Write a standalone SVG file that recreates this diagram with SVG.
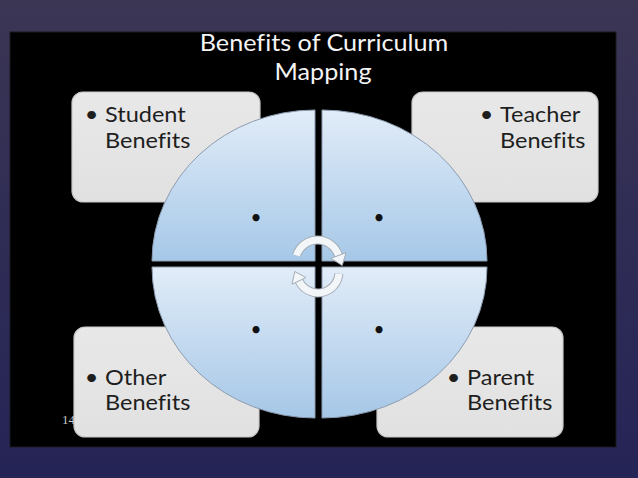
<svg xmlns="http://www.w3.org/2000/svg" width="638" height="478" viewBox="0 0 638 478">
  <defs>
    <linearGradient id="bg" x1="0" y1="0" x2="0" y2="1">
      <stop offset="0" stop-color="#3b3654"/>
      <stop offset="0.5" stop-color="#2f2c55"/>
      <stop offset="1" stop-color="#252456"/>
    </linearGradient>
    <linearGradient id="quadTop" x1="0" y1="0" x2="0" y2="1">
      <stop offset="0" stop-color="#e1ecf8"/>
      <stop offset="1" stop-color="#a6c8e8"/>
    </linearGradient>
    <linearGradient id="quadBot" x1="0" y1="0" x2="0" y2="1">
      <stop offset="0" stop-color="#e1ecf8"/>
      <stop offset="1" stop-color="#a6c7e7"/>
    </linearGradient>
    <linearGradient id="box" x1="0" y1="0" x2="0" y2="1">
      <stop offset="0" stop-color="#e8e8e8"/>
      <stop offset="1" stop-color="#e1e1e1"/>
    </linearGradient>
  </defs>
  <style>
    text { font-variant-ligatures: none; font-feature-settings: "liga" 0; }
    .box { fill: url(#box); stroke: #c8c8c8; stroke-width: 1.2; }
    .btxt { font-family: Lato, "Open Sans", sans-serif; font-size: 21px; fill: #1e1e1e; }
    .title { font-family: Lato, "Open Sans", sans-serif; font-size: 22.5px; fill: #f4f4f4; text-anchor: middle; }
    .quad { stroke: #8c9cb0; stroke-width: 1; }
    .dot { font-family: Lato, "Open Sans", sans-serif; font-size: 19px; fill: #111; text-anchor: middle; }
    .arcOut { fill: none; stroke: #a4adb6; stroke-width: 9; }
    .arcIn { fill: none; stroke: #f3f6f9; stroke-width: 7; }
    .head { fill: #f3f6f9; stroke: #a4adb6; stroke-width: 1; stroke-linejoin: round; }
  </style>

  <rect x="0" y="0" width="638" height="478" fill="url(#bg)"/>
  <rect x="10" y="32" width="606" height="415" fill="#000000" stroke="#1a1a22" stroke-width="1"/>

  <text x="62" y="424" font-family="Liberation Serif, serif" font-size="13" fill="#c8c8c8">14</text>

  <g id="title">
    <text class="title" transform="translate(324,51) scale(1.12,1)">Benefits of Curriculum</text>
    <text class="title" transform="translate(323,80) scale(1.12,1)">Mapping</text>
  </g>

  <g id="box-student">
    <rect class="box" x="72" y="92" width="188" height="110" rx="11"/>
    <text class="btxt" transform="translate(105,122) scale(1.12,1)"><tspan x="-12" text-anchor="middle">•</tspan><tspan x="0">Student</tspan></text>
    <text class="btxt" transform="translate(105,148) scale(1.12,1)">Benefits</text>
  </g>

  <g id="box-teacher">
    <rect class="box" x="412" y="92" width="186" height="110" rx="11"/>
    <text class="btxt" transform="translate(500,122) scale(1.12,1)"><tspan x="-12" text-anchor="middle">•</tspan><tspan x="0">Teacher</tspan></text>
    <text class="btxt" transform="translate(500,148) scale(1.12,1)">Benefits</text>
  </g>

  <g id="box-other">
    <rect class="box" x="74" y="327" width="185" height="110" rx="11"/>
    <text class="btxt" transform="translate(105,385) scale(1.12,1)"><tspan x="-12" text-anchor="middle">•</tspan><tspan x="0">Other</tspan></text>
    <text class="btxt" transform="translate(105,410) scale(1.12,1)">Benefits</text>
  </g>

  <g id="box-parent">
    <rect class="box" x="377" y="327" width="186" height="110" rx="11"/>
    <text class="btxt" transform="translate(467,385) scale(1.12,1)"><tspan x="-12" text-anchor="middle">•</tspan><tspan x="0">Parent</tspan></text>
    <text class="btxt" transform="translate(467,410) scale(1.12,1)">Benefits</text>
  </g>

  <g id="quadrant-top-left">
    <path class="quad" fill="url(#quadTop)" d="M315,261 L152,261 A163,151 0 0 1 315,110 Z"/>
    <text class="dot" x="256" y="224">•</text>
  </g>
  <g id="quadrant-top-right">
    <path class="quad" fill="url(#quadTop)" d="M322,261 L322,110 A165,151 0 0 1 487,261 Z"/>
    <text class="dot" x="379" y="224">•</text>
  </g>
  <g id="quadrant-bottom-left">
    <path class="quad" fill="url(#quadBot)" d="M315,267 L315,418 A163,151 0 0 1 152,267 Z"/>
    <text class="dot" x="256" y="336">•</text>
  </g>
  <g id="quadrant-bottom-right">
    <path class="quad" fill="url(#quadBot)" d="M322,267 L487,267 A165,151 0 0 1 322,418 Z"/>
    <text class="dot" x="379" y="336">•</text>
  </g>

  <g id="connectors">
    <path class="arcOut" d="M296.5,255.5 A22,22 0 0 1 338.5,255.5"/>
    <path class="arcIn" d="M296.5,255.5 A22,22 0 0 1 338.5,255.5"/>
    <polygon class="head" points="346,252.7 331,258.3 342.2,265.5"/>
    <path class="arcOut" d="M338.9,273.7 A21,21 0 0 1 299,280.9"/>
    <path class="arcIn" d="M338.9,273.7 A21,21 0 0 1 299,280.9"/>
    <polygon class="head" points="292,284.2 306,277.6 294.8,271.5"/>
  </g>
</svg>
